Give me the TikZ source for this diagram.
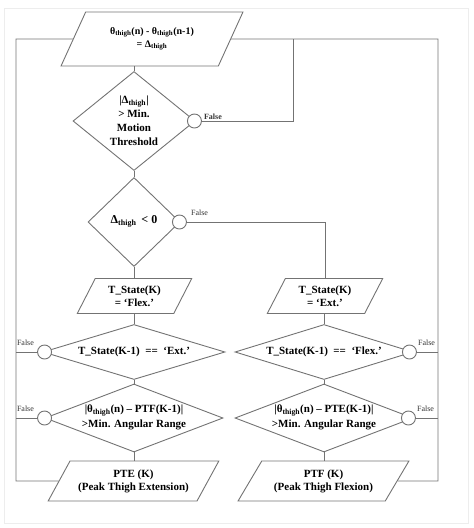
\documentclass[tikz,border=0pt]{standalone}
\usepackage{fontspec}
\setmainfont{Liberation Serif}
\usetikzlibrary{shapes.geometric}
\begin{document}
\begin{tikzpicture}[x=1pt,y=-1pt,
 ln/.style={draw=black!55, line width=0.9pt},
 para/.style={ln, trapezium, trapezium stretches=true, inner sep=0pt, align=center, font=\bfseries\fontsize{11}{13}\selectfont},
 dia/.style={ln, diamond, inner sep=0pt},
 txt/.style={align=center, font=\bfseries\fontsize{11}{14}\selectfont, inner sep=0pt},
 cir/.style={ln, circle, minimum size=14pt, inner sep=0pt, fill=white},
 flab/.style={font=\fontsize{8}{9}\selectfont, inner sep=0pt, text=black!80}]
\useasboundingbox (0,0) rectangle (474,528);
\draw[black!7, line width=0.8pt] (4,8) rectangle (468,523);

% top input
\node[para, trapezium left angle=56, trapezium right angle=124, minimum width=182pt, minimum height=54pt, font=\bfseries\fontsize{10}{13}\selectfont] (p0) at (152,39) {θ\textsubscript{thigh}(n) - θ\textsubscript{thigh}(n-1)\\= Δ\textsubscript{thigh}};

% decision 1
\node[dia, minimum width=122pt, minimum height=99pt] (d1) at (134,121) {};
\node[txt] (t1) at (134,121) {|Δ\textsubscript{thigh}|\\> Min.\\Motion\\Threshold};
\node[cir] (c1) at ([xshift=-1pt]d1.east) {};
\node[flab, anchor=west, font=\bfseries\fontsize{8}{9}\selectfont] (f1) at ([xshift=2pt,yshift=4pt]c1.east) {False};

% decision 2
\node[dia, minimum width=92pt, minimum height=89pt] (d2) at (134,222) {};
\node[txt, font=\bfseries\fontsize{12}{14}\selectfont] (t2) at (134,221) {Δ\textsubscript{thigh}\ \,< 0};
\node[cir] (c2) at ([xshift=-1pt]d2.east) {};
\node[flab, anchor=west] (f2) at ([xshift=4pt,yshift=9pt]c2.east) {False};

% state assignments
\node[para, trapezium left angle=60, trapezium right angle=120, minimum width=115pt, minimum height=35pt] (p1) at (134.5,296) {T\_State(K)\\= ‘Flex.’};
\node[para, trapezium left angle=60, trapezium right angle=120, minimum width=116pt, minimum height=35pt] (p2) at (325,296) {T\_State(K)\\= ‘Ext.’};

% decision 3 left / right
\node[dia, minimum width=182pt, minimum height=55pt] (d3L) at (134,352) {};
\node[txt] (t3L) at (134,352) {T\_State(K-1) \ == \ ‘Ext.’};
\node[cir] (c3L) at ([xshift=2pt]d3L.west) {};
\node[flab, anchor=east] (f3L) at ([xshift=-3pt,yshift=9pt]c3L.west) {False};

\node[dia, minimum width=178pt, minimum height=55pt] (d3R) at (324,352) {};
\node[txt] (t3R) at (324,352) {T\_State(K-1) \ == \ ‘Flex.’};
\node[cir] (c3R) at ([xshift=-4pt]d3R.east) {};
\node[flab, anchor=west] (f3R) at ([xshift=1pt,yshift=9pt]c3R.east) {False};

% decision 4 left / right
\node[dia, minimum width=178pt, minimum height=68pt] (d4L) at (134,418) {};
\node[txt, font=\bfseries\fontsize{11}{15}\selectfont] (t4L) at (134,417.5) {|θ\textsubscript{thigh}(n) – PTF(K-1)|\\>Min. Angular Range};
\node[cir] (c4L) at (d4L.west) {};
\node[flab, anchor=east] (f4L) at ([xshift=-3pt,yshift=9pt]c4L.west) {False};

\node[dia, minimum width=178pt, minimum height=68pt] (d4R) at (324,418) {};
\node[txt, font=\bfseries\fontsize{11}{15}\selectfont] (t4R) at (324,417.5) {|θ\textsubscript{thigh}(n) – PTE(K-1)|\\>Min. Angular Range};
\node[cir] (c4R) at ([xshift=-5pt]d4R.east) {};
\node[flab, anchor=west] (f4R) at ([xshift=1pt,yshift=9pt]c4R.east) {False};

% outputs
\node[para, trapezium left angle=50.5, trapezium right angle=129.5, minimum width=171pt, minimum height=40pt] (p3) at (133.5,481) {PTE (K)\\(Peak Thigh Extension)};
\node[para, trapezium left angle=50.5, trapezium right angle=129.5, minimum width=171pt, minimum height=40pt] (p4) at (323.5,481) {PTF (K)\\(Peak Thigh Flexion)};

% loop-back coordinates
\coordinate (lt) at (16,39);
\coordinate (lb) at (16,481);
\coordinate (rt) at (438,39);
\coordinate (rb) at (438,481);
\coordinate (j1) at (293,39);

% connectors
\draw[ln] (p0.west) -- (lt) -- (lb) -- (p3.west);
\draw[ln] (p0.east) -- (rt) -- (rb) -- (p4.east);
\draw[ln] (c1.east) -| (j1);
\draw[ln] (c2.east) -| (p2.north);
\draw[ln] (c3L.west) -- (c3L.west -| lt);
\draw[ln] (c4L.west) -- (c4L.west -| lt);
\draw[ln] (c3R.east) -- (c3R.east -| rt);
\draw[ln] (c4R.east) -- (c4R.east -| rt);
\draw[ln] (d1.north |- p0.south) -- (d1.north);
\draw[ln] (d1.south) -- (d2.north);
\draw[ln] (d2.south) -- (d2.south |- p1.north);
\draw[ln] (d3L.north |- p1.south) -- (d3L.north);
\draw[ln] (d3L.south) -- (d4L.north);
\draw[ln] (d4L.south) -- (d4L.south |- p3.north);
\draw[ln] (d3R.north |- p2.south) -- (d3R.north);
\draw[ln] (d3R.south) -- (d4R.north);
\draw[ln] (d4R.south) -- (d4R.south |- p4.north);
\end{tikzpicture}
\end{document}
